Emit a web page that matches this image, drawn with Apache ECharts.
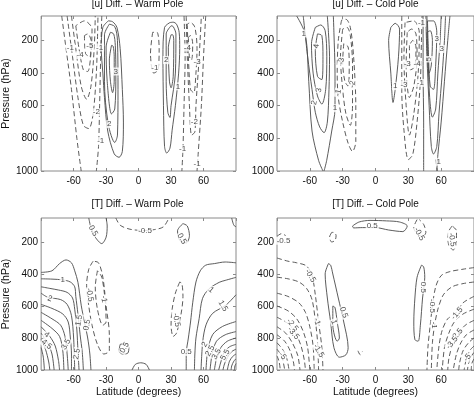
<!DOCTYPE html>
<html>
<head>
<meta charset="utf-8">
<script src="https://cdn.jsdelivr.net/npm/echarts@6/dist/echarts.min.js"></script>
<style>
  html, body { margin: 0; padding: 0; background: #fff; }
  #chart { width: 474px; height: 399px; }
</style>
</head>
<body>
<div id="chart"></div>
<script>
// panel titles and ticks
const titles = ['[u] Diff. – Warm Pole', '[u] Diff. – Cold Pole', '[T] Diff. – Warm Pole', '[T] Diff. – Cold Pole']
const latTicks = [-60, -30, 0, 30, 60]
const pTicks = [200, 400, 600, 800, 1000]

// contour lines, points are [latitude, pressure]
// [u] warm pole
const uWarmSolid = [
  [[-28, 80], [-33, 120], [-34.5, 245], [-33, 400], [-31.5, 550], [-28.5, 755], [-22.5, 895], [-18, 916], [-15, 880], [-14, 700], [-15, 500], [-17, 250], [-20, 120], [-24, 85], [-28, 80]],
  [[-27, 100], [-31.5, 165], [-31.5, 450], [-28, 713], [-22, 825], [-19.5, 780], [-19, 500], [-19.5, 200], [-22, 115], [-27, 100]],
  [[-26, 150], [-30, 240], [-29, 450], [-25, 650], [-22, 620], [-21, 400], [-21.5, 230], [-23, 160], [-26, 150]],
  [[-25, 230], [-27, 320], [-26, 450], [-24, 520], [-22.5, 450], [-22.5, 300], [-23.5, 235], [-25, 230]],
  [[29, 90], [24, 120], [22.5, 300], [23, 600], [24, 850], [26, 890], [29, 860], [31, 750], [34, 600], [37, 400], [38, 250], [37.5, 150], [35, 100], [32, 88], [29, 90]],
  [[30, 110], [25.5, 160], [25.5, 450], [27, 640], [29, 672], [30, 600], [34, 400], [34.5, 160], [32, 115], [30, 110]],
  [[30, 165], [27.5, 245], [28.5, 449], [30, 490], [32, 420], [32.5, 200], [31.5, 165], [30, 165]]
]
const uWarmDashed = [
  [[-71, 50], [-67, 250], [-62, 500], [-57, 800], [-53, 1000]],
  [[-34, 50], [-35, 300], [-36, 600], [-37, 850], [-39, 1000]],
  [[-66, 50], [-61, 300], [-56, 550], [-51, 720], [-46, 740], [-42, 650], [-39, 400], [-38, 200], [-37.5, 50]],
  [[-62, 50], [-58, 250], [-53, 480], [-48, 560], [-44, 480], [-41, 250], [-40, 50]],
  [[-58, 110], [-55, 250], [-51, 380], [-47, 390], [-44, 280], [-43, 130], [-50, 80], [-58, 110]],
  [[-50, 170], [-49, 280], [-45, 300], [-44, 200], [-47, 160], [-50, 170]],
  [[13, 150], [11, 280], [14, 400], [18, 380], [19, 250], [17, 150], [13, 150]],
  [[42, 50], [43, 300], [42, 600], [41, 866], [40, 1000]],
  [[62, 50], [60, 300], [58, 600], [55, 900], [54, 1000]],
  [[44, 50], [45, 300], [47, 600], [49, 780], [52, 760], [53, 600], [56, 300], [58, 50]],
  [[45, 100], [46, 300], [48, 500], [51, 520], [53, 400], [54, 250], [52, 120], [48, 90], [45, 100]],
  [[46, 180], [47, 300], [49, 320], [50, 220], [48, 170], [46, 180]]
]
const uWarmLabels = [
  [-63, 243, '-1', 0], [-54, 290, '-4', 0], [-45, 231, '-5', 0], [-36, 243, '-1', 0], [-39, 640, '-2', 0], [-35, 817, '-1', 0],
  [-27, 713, '2', 0], [-21, 390, '3', 0], [15, 365, '-1', 0], [25.5, 320, '2', 0], [36.5, 481, '1', 0],
  [45, 243, '-4', 0], [54, 330, '-3', 0], [51.6, 700, '-2', 0], [40.6, 866, '-1', 0], [54, 957, '-1', 0]
]

// [u] cold pole
const uColdSolid = [
  [[-72, 50], [-64, 165], [-61, 450], [-58, 755], [-52, 935], [-48, 1000]],
  [[-47, 1000], [-44.6, 935], [-40, 755], [-37, 620], [-37, 400], [-38, 150], [-38.5, 50]],
  [[-66, 50], [-62, 300], [-58, 500], [-55, 640], [-51, 730], [-47, 765], [-44, 700], [-42.5, 500], [-42, 300], [-43, 150], [-44, 50]],
  [[-55, 120], [-58.5, 220], [-57, 400], [-53, 540], [-49, 590], [-45.5, 500], [-44.5, 300], [-46, 140], [-50, 105], [-55, 120]],
  [[-53, 160], [-55, 260], [-53, 420], [-49, 440], [-48, 300], [-49, 170], [-53, 160]],
  [[14, 120], [12, 200], [14, 400], [16, 580], [18, 500], [21, 300], [22, 130], [18, 95], [14, 120]],
  [[43.5, 50], [43.5, 400], [44, 700], [44, 1000]],
  [[68, 50], [66, 200], [63, 450], [60, 700], [57, 900], [56, 1000]],
  [[46, 50], [47, 300], [49, 600], [51, 850], [53, 896], [56, 850], [58, 650], [61, 400], [63, 200], [64, 50]],
  [[47, 50], [48, 300], [49.5, 550], [52, 670], [55, 620], [57, 400], [59, 200], [60, 50]],
  [[47.5, 80], [48.5, 300], [50, 480], [53, 500], [55, 350], [56, 150], [53, 80], [47.5, 80]],
  [[47, 150], [47.5, 300], [49, 400], [51, 350], [52, 200], [50, 140], [47, 150]]
]
const uColdDashed = [
  [[-31, 75], [-34, 200], [-35, 400], [-34, 550], [-30, 700], [-25, 830], [-21, 880], [-18, 820], [-18, 600], [-20, 300], [-23, 120], [-27, 70], [-31, 75]],
  [[-30, 130], [-32, 300], [-30, 500], [-27, 650], [-23, 720], [-21, 600], [-21, 350], [-23, 170], [-26, 120], [-30, 130]],
  [[-29, 220], [-30, 330], [-28, 450], [-25, 480], [-24, 350], [-25, 240], [-29, 220]],
  [[24, 50], [24, 200], [24, 500], [26, 750], [30, 930], [34, 900], [38, 700], [41, 450], [42, 200], [42.5, 50]],
  [[27, 90], [26, 300], [28, 600], [31, 780], [35, 650], [39, 400], [40, 150], [35, 80], [27, 90]],
  [[29, 150], [28, 350], [31, 550], [35, 480], [38, 300], [37, 160], [33, 130], [29, 150]],
  [[31, 230], [32, 380], [36, 360], [37, 240], [34, 200], [31, 230]],
  [[55, 930], [56.5, 1000]]
]
const uColdLabels = [
  [-65.6, 157, '1', 0], [-37, 615, '1', 0], [-56, 581, '2', 80], [-51.6, 505, '3', 80], [-54, 235, '4', 80],
  [-31, 327, '-3', 80], [-34, 520, '-1', 80], [-21, 469, '-2', 80],
  [42, 92, '-1', 0], [18, 480, '1', 0], [26, 470, '-3', 0], [29, 346, '-3', 0], [38, 346, '-4', 0], [41, 460, '-1', 0],
  [49, 315, '5', 90], [56, 191, '3', 0], [60.5, 252, '3', 0], [57.7, 943, '1', 0]
]

// [T] warm pole
const tWarmSolid = [
  [[-46, 50], [-44, 110], [-40, 170], [-34, 210], [-30, 170], [-29, 100], [-30, 50]],
  [[41, 85], [36, 130], [38, 190], [44, 205], [47, 160], [45, 100], [41, 85]],
  [[86, 50], [88, 95], [90, 105]],
  [[-90, 390], [-80, 380], [-73, 335], [-67, 312], [-62, 330], [-59, 380], [-56, 452], [-53, 595], [-50, 700], [-47, 800], [-45, 900], [-44, 1000]],
  [[-90, 430], [-80, 432], [-70, 437], [-63, 450], [-59, 480], [-58, 540], [-56, 650], [-54, 780], [-52, 890], [-51, 1000]],
  [[-90, 480], [-82, 490], [-74, 500], [-66, 515], [-61, 550], [-59, 620], [-57, 750], [-56, 880], [-55, 1000]],
  [[-90, 520], [-84, 545], [-72, 560], [-66, 590], [-62, 660], [-60, 800], [-59, 1000]],
  [[-90, 590], [-80, 615], [-70, 650], [-65, 700], [-63, 800], [-62, 900], [-62, 1000]],
  [[-90, 640], [-80, 680], [-72, 720], [-68, 790], [-66, 900], [-65, 1000]],
  [[-90, 690], [-80, 740], [-73, 790], [-70, 880], [-69, 1000]],
  [[-90, 730], [-82, 790], [-77, 850], [-74, 940], [-73, 1000]],
  [[-90, 770], [-84, 830], [-80, 900], [-78, 1000]],
  [[-90, 810], [-86, 870], [-83, 950], [-82, 1000]],
  [[-90, 860], [-88, 920], [-87, 1000]],
  [[-17, 840], [-12, 835], [-9, 860], [-10, 895], [-15, 900], [-18, 880], [-17, 840]],
  [[-6, 1000], [-3, 965], [2, 955], [7, 965], [10, 1000]],
  [[90, 330], [80, 325], [70, 335], [62, 345], [57, 380], [53, 450], [50, 580], [48, 700], [46, 800], [44, 900], [44, 1000]],
  [[90, 421], [80, 440], [74.5, 452], [65, 493], [59, 554], [56, 677], [53, 800], [52, 900], [51.6, 1000]],
  [[90, 530], [80.6, 595], [68.4, 646], [62.3, 718], [59.3, 820], [57.7, 1000]],
  [[90, 697], [77.5, 728], [68.4, 779], [63.8, 882], [62.3, 1000]],
  [[90, 760], [80, 780], [72, 820], [68, 900], [66, 1000]],
  [[90, 800], [82, 820], [76, 860], [72, 930], [70, 1000]],
  [[90, 840], [84, 855], [79, 890], [76, 950], [74, 1000]],
  [[90, 870], [86, 885], [82, 920], [79, 970], [78, 1000]],
  [[90, 900], [87, 915], [84, 945], [82, 1000]],
  [[90, 930], [88, 945], [86, 975], [85.5, 1000]],
  [[90, 960], [89, 975], [88.5, 1000]]
]
const tWarmDashed = [
  [[-21, 50], [-17, 95], [-8, 120], [5, 128], [15, 122], [23, 105], [28, 50]],
  [[-42, 320], [-46, 370], [-48, 470], [-46, 600], [-43, 720], [-38, 840], [-32, 900], [-27, 880], [-27, 780], [-30, 600], [-33, 420], [-37, 330], [-42, 320]],
  [[-38, 380], [-40, 480], [-38, 620], [-33, 720], [-30, 700], [-31, 560], [-34, 420], [-38, 380]],
  [[38, 450], [34, 520], [31, 620], [30, 720], [32, 790], [35, 770], [39, 660], [41, 540], [40, 460], [38, 450]]
]
const tWarmLabels = [
  [-42, 130, '0.5', -60], [6, 128, '-0.5', 0], [40, 180, '0.5', -60],
  [-70, 437, '1', 0], [-82, 554, '2', -20], [-47.5, 718, '0.5', 80], [-55, 690, '1.5', 80], [-45, 530, '-0.5', -80], [-32, 557, '-1', -80],
  [-13, 860, '0.5', 60], [-57, 900, '2.5', 80], [-67, 840, '3.5', 60], [-85, 780, '4', -40], [-85, 840, '4.5', -40],
  [35, 687, '-0.5', -80], [44, 887, '0.5', 0], [67, 500, '1', -40], [78, 600, '1.5', -60],
  [61, 841, '2', 60], [66, 880, '2.5', 60], [72, 900, '3.5', 60], [80, 905, '5.5', 60]
]

// [T] cold pole
const tColdSolid = [
  [[-21, 100], [-15, 75], [-5, 65], [10, 68], [22, 75], [29, 100], [25, 135], [12, 125], [0, 110], [-12, 110], [-20, 112], [-21, 100]],
  [[-43, 335], [-46, 400], [-44, 550], [-41, 700], [-38, 860], [-33, 920], [-27, 905], [-25, 860], [-29, 700], [-34, 550], [-39, 400], [-41, 345], [-43, 335]],
  [[-39, 600], [-39, 720], [-35, 820], [-33, 800], [-35, 700], [-37, 610], [-39, 600]],
  [[42, 345], [38, 420], [36, 550], [35, 700], [36, 810], [39, 820], [41, 720], [43, 550], [45, 420], [44, 355], [42, 345]]
]
const tColdDashed = [
  [[-90, 165], [-86, 148], [-82, 160]],
  [[-40, 140], [-42, 170], [-40, 200], [-37, 190], [-36, 160], [-38, 140], [-40, 140]],
  [[38, 60], [35, 110], [38, 150], [43, 165], [46, 140], [44, 90], [40, 60]],
  [[70, 100], [66, 150], [67, 220], [71, 250], [74, 200], [74, 130], [70, 100]],
  [[-16, 880], [-14, 905], [-12, 885]],
  [[-90, 300], [-80, 320], [-72, 330], [-63, 350], [-58, 410], [-55, 530], [-52, 700], [-49, 860], [-48, 1000]],
  [[-90, 420], [-80, 430], [-70, 450], [-63, 490], [-58, 560], [-55, 690], [-53, 820], [-52, 1000]],
  [[-90, 520], [-80, 540], [-70, 580], [-64, 640], [-60, 730], [-57, 850], [-56, 1000]],
  [[-90, 600], [-80, 630], [-72, 680], [-66, 760], [-62, 860], [-60, 1000]],
  [[-90, 670], [-80, 710], [-73, 770], [-68, 850], [-65, 940], [-64, 1000]],
  [[-90, 730], [-82, 770], [-76, 830], [-71, 910], [-69, 1000]],
  [[-90, 780], [-83, 820], [-78, 880], [-75, 950], [-74, 1000]],
  [[-90, 830], [-85, 870], [-81, 930], [-79, 1000]],
  [[-90, 870], [-86, 910], [-84, 960], [-83, 1000]],
  [[-90, 910], [-88, 950], [-87, 1000]],
  [[90, 360], [80, 370], [68, 385], [60, 410], [55, 480], [52, 600], [50, 720], [48, 850], [47, 1000]],
  [[90, 450], [80, 460], [70, 480], [62, 530], [57, 620], [54, 720], [52, 830], [51, 1000]],
  [[90, 540], [80, 580], [74, 640], [66, 680], [61, 750], [58, 850], [56, 1000]],
  [[90, 620], [80, 650], [72, 700], [67, 770], [63, 860], [61, 1000]],
  [[90, 690], [82, 720], [75, 780], [70, 850], [67, 930], [66, 1000]],
  [[90, 750], [83, 780], [78, 830], [74, 900], [71, 1000]],
  [[90, 800], [85, 830], [80, 880], [77, 950], [76, 1000]],
  [[90, 850], [86, 880], [83, 930], [81, 1000]],
  [[90, 890], [87, 920], [85, 960], [84, 1000]],
  [[90, 930], [88, 960], [87.5, 1000]]
]
const tColdLabels = [
  [-3, 100, '0.5', 0], [-84, 192, '-0.5', 0], [40, 150, '-0.5', -60], [70, 185, '-0.5', -80],
  [-59.5, 411, '-0.5', -60], [-29, 640, '0.5', -70], [-38, 700, '1', -70], [-53.5, 697, '-1', -70], [-52, 880, '-1.5', -60],
  [-76, 718, '-2.5', -50], [-75, 770, '-3.5', -50], [-85, 912, '-5', -50],
  [44, 483, '0.5', -90], [52, 600, '-0.5', -90], [54, 720, '-1', -90], [74.5, 646, '-1.5', 50],
  [74.5, 779, '-2.5', 50], [70, 830, '-3.5', 50], [84, 923, '-5', 50]
]

const panels = [
  { solid: uWarmSolid, dashed: uWarmDashed, labels: uWarmLabels, left: 39, top: 16, height: 155 },
  { solid: uColdSolid, dashed: uColdDashed, labels: uColdLabels, left: 277, top: 16, height: 155 },
  { solid: tWarmSolid, dashed: tWarmDashed, labels: tWarmLabels, left: 39, top: 218, height: 153 },
  { solid: tColdSolid, dashed: tColdDashed, labels: tColdLabels, left: 277, top: 218, height: 153 }
]

const font = 'Liberation Sans'
const lineColor = '#4a4a4a'
const boxColor = '#8a8a8a'

const grid = []
const xAxis = []
const yAxis = []
const series = []
const graphic = []

panels.forEach((pn, i) => {
  grid.push({ left: pn.left, top: pn.top, width: 197, height: pn.height, show: true, borderColor: boxColor, borderWidth: 1, backgroundColor: '#fff' })
  graphic.push({
    type: 'text', x: pn.left + 98.5, y: i < 2 ? 4 : 204, z: 10,
    style: { text: titles[i], font: '10px ' + font, fill: '#111', align: 'center', verticalAlign: 'middle' }
  })
})

// bottom / left axes first (index 0..3), then top / right (index 4..7)
panels.forEach((pn, i) => {
  xAxis.push({
    gridIndex: i, type: 'value', min: -90, max: 90, interval: 30,
    axisLine: { show: false, onZero: false },
    axisTick: { inside: true, length: 3, lineStyle: { color: boxColor } },
    axisLabel: { showMinLabel: false, showMaxLabel: false, color: '#111', fontSize: 10, fontFamily: font, margin: 5 },
    splitLine: { show: false },
    name: i >= 2 ? 'Latitude (degrees)' : '',
    nameLocation: 'middle', nameGap: 17,
    nameTextStyle: { color: '#111', fontSize: 10.5, fontFamily: font }
  })
  yAxis.push({
    gridIndex: i, type: 'value', inverse: true, min: 50, max: 1000,
    axisLine: { show: false, onZero: false },
    axisTick: { inside: true, length: 3, customValues: pTicks, lineStyle: { color: boxColor } },
    axisLabel: { customValues: pTicks, formatter: v => String(v), color: '#111', fontSize: 10, fontFamily: font, margin: 3 },
    splitLine: { show: false },
    name: i % 2 === 0 ? 'Pressure (hPa)' : '',
    nameLocation: 'middle', nameGap: 25,
    nameTextStyle: { color: '#111', fontSize: 10.5, fontFamily: font }
  })
})
panels.forEach((pn, i) => {
  xAxis.push({
    gridIndex: i, type: 'value', position: 'top', min: -90, max: 90, interval: 30,
    axisLine: { show: false, onZero: false },
    axisTick: { inside: true, length: 3, lineStyle: { color: boxColor } },
    axisLabel: { show: false }, splitLine: { show: false }
  })
  yAxis.push({
    gridIndex: i, type: 'value', position: 'right', inverse: true, min: 50, max: 1000,
    axisLine: { show: false, onZero: false },
    axisTick: { inside: true, length: 3, customValues: pTicks, lineStyle: { color: boxColor } },
    axisLabel: { show: false }, splitLine: { show: false }
  })
})

panels.forEach((pn, i) => {
  const addLines = (lines, dashed) => {
    lines.forEach(pts => {
      series.push({
        type: 'line', xAxisIndex: i, yAxisIndex: i, data: pts,
        smooth: 0.3, showSymbol: false, symbol: 'none', silent: true, clip: true, z: 2,
        lineStyle: { color: lineColor, width: 0.9, type: dashed ? [5, 3] : 'solid' }
      })
    })
  }
  addLines(pn.solid, false)
  addLines(pn.dashed, true)
  series.push({
    type: 'scatter', xAxisIndex: i, yAxisIndex: i, symbolSize: 1, silent: true, z: 5,
    itemStyle: { color: 'rgba(0,0,0,0)' },
    label: {
      show: true, position: 'inside', fontSize: 8, fontFamily: font, color: '#222',
      backgroundColor: '#fff', padding: [0, 1]
    },
    data: pn.labels.map(l => ({ value: [l[0], l[1]], label: { formatter: l[2], rotate: l[3] } }))
  })
})

const chart = echarts.init(document.getElementById('chart'))
chart.setOption({
  backgroundColor: '#fff',
  animation: false,
  grid, xAxis, yAxis, series, graphic
})
</script>
</body>
</html>
